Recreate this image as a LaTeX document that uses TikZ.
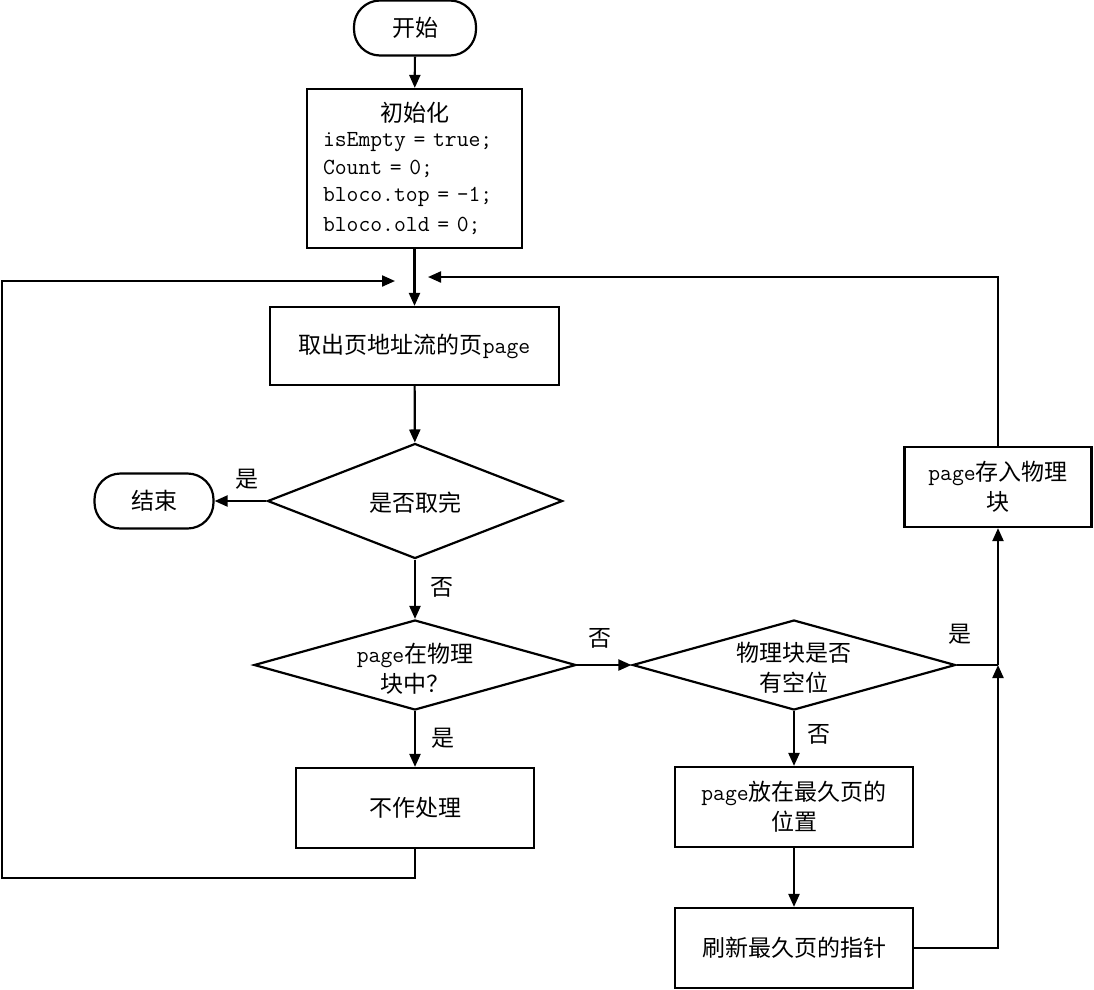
\documentclass[tikz,border=0pt]{standalone}
\usepackage{fontspec}
\setmainfont{Liberation Serif}
\newfontfamily\cjk{Noto Sans CJK SC}
\usetikzlibrary{shapes.geometric,arrows.meta}
\newcommand\myfs{\fontsize{23pt}{30pt}\selectfont}
\newcommand\mycode{\fontsize{23pt}{27.5pt}\selectfont\ttfamily}
\newcommand\pg{{\fontsize{23pt}{30pt}\selectfont\ttfamily page}}
\begin{document}
\begin{tikzpicture}[x=1pt,y=-1pt,line width=2.2pt,
  box/.style={draw,rectangle,inner sep=0pt,align=center,font=\myfs},
  term/.style={draw,rectangle,rounded corners=26pt,inner sep=0pt,font=\myfs},
  dia/.style={draw,diamond,inner sep=0pt},
  txt/.style={inner sep=0pt,align=center,font=\myfs},
  lbl/.style={inner sep=0pt,font=\myfs},
  arr/.style={-{Triangle[length=13pt,width=11pt]}}]
\useasboundingbox (0,0) rectangle (1094,989);
\node[term,minimum width=122pt,minimum height=55pt] (start) at (415,28) {{\cjk 开始}};
\node[box,minimum width=215pt,minimum height=159pt,text width=183pt,align=left] (init) at (414.5,168.5)
  {\makebox[183pt]{\cjk 初始化}\\[-2pt]
   {\mycode isEmpty = true;\\ Count = 0;\\ bloco.top = -1;\\ bloco.old = 0;}};
\node[box,minimum width=289pt,minimum height=78pt] (get) at (414.5,346) {{\cjk 取出页地址流的页}\pg};
\node[dia,minimum width=295pt,minimum height=115pt] (d1) at (415,501) {};
\node[txt] (d1t) at (415,503) {\cjk 是否取完};
\node[term,minimum width=119pt,minimum height=55pt] (end) at (154,501) {{\cjk 结束}};
\node[dia,minimum width=322pt,minimum height=90pt] (d2) at (415,665) {};
\node[txt] (d2t) at (415,669) {\pg{\cjk 在物理}\\{\cjk 块中？}};
\node[dia,minimum width=323pt,minimum height=90pt] (d3) at (794,665) {};
\node[txt] (d3t) at (794,668) {{\cjk 物理块是否}\\{\cjk 有空位}};
\node[box,minimum width=187pt,minimum height=80pt] (store) at (998,487) {\pg{\cjk 存入物理}\\{\cjk 块}};
\node[box,minimum width=238pt,minimum height=80pt] (nop) at (415,808) {{\cjk 不作处理}};
\node[box,minimum width=238pt,minimum height=80pt] (put) at (794,807) {\pg{\cjk 放在最久页的}\\{\cjk 位置}};
\node[box,minimum width=238pt,minimum height=80pt] (refresh) at (794,948) {{\cjk 刷新最久页的指针}};
\coordinate (j) at (998,665);
\coordinate (loopR) at (428,277);
\coordinate (loopL) at (395,281);
\draw[arr] (start) -- (init);
\draw[arr] (init) -- (get);
\draw[arr] (get) -- (d1);
\draw[arr] (d1.west) -- (end.east);
\draw[arr] (d1.south) -- (d2.north);
\draw[arr] (d2.east) -- (d3.west);
\draw[arr] (d2.south) -- (nop.north);
\draw[arr] (d3.south) -- (put.north);
\draw[arr] (put.south) -- (refresh.north);
\draw (d3.east) -- (j);
\draw[arr] (j) -- (store.south);
\draw[arr] (refresh.east) -| (j);
\draw[arr] (store.north) |- (loopR);
\draw[arr] (nop.south) -- (415,878) -- (2,878) -- (2,281) -- (loopL);
\node[lbl] (l1) at (247,479) {\cjk 是};
\node[lbl] (l2) at (442,587) {\cjk 否};
\node[lbl] (l3) at (600,638) {\cjk 否};
\node[lbl] (l4) at (443,738) {\cjk 是};
\node[lbl] (l5) at (819,734) {\cjk 否};
\node[lbl] (l6) at (960,634) {\cjk 是};
\end{tikzpicture}
\end{document}
